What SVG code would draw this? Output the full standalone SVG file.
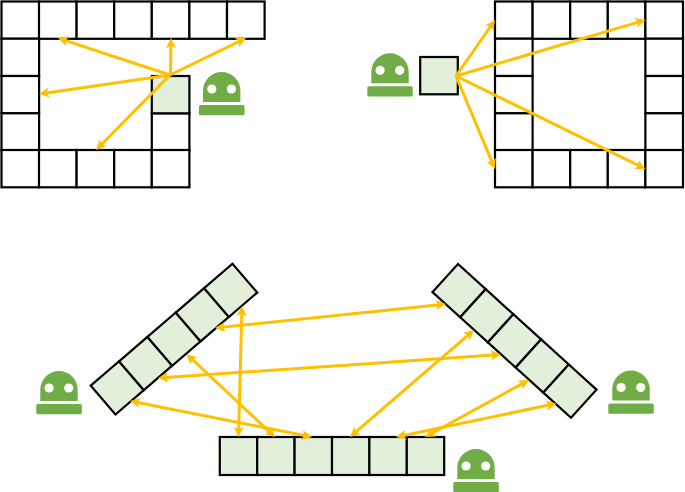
<svg xmlns="http://www.w3.org/2000/svg" width="685" height="492" viewBox="0 0 685 492">
<style>
.e{fill:#fff;stroke:#000;stroke-width:2.2}
.f{fill:#e2efda;stroke:#000;stroke-width:2.2}
.c line{stroke:#ffc000;stroke-width:3;fill:none}
.o line{marker-end:url(#a)}
.b line{marker-start:url(#a);marker-end:url(#a)}
</style>
<defs>
<marker id="a" markerUnits="userSpaceOnUse" markerWidth="11" markerHeight="12" viewBox="0 0 11 12" refX="6" refY="6" orient="auto-start-reverse"><path d="M0 1 L10 6 L0 11 L2 6Z" fill="#ffc000"/></marker>
<g id="bot"><path d="M0 30V18.7A18.7 18.7 0 0 1 37.4 18.7V30Z" fill="#70ad47"/><circle cx="8.8" cy="17" r="4.6" fill="#fff"/><circle cx="28.4" cy="17" r="4.6" fill="#fff"/><rect x="-4" y="33" width="45.5" height="10.2" rx="1.5" fill="#70ad47"/></g>
<rect id="ce" class="e" width="37.6" height="37.3"/>
<rect id="cf" class="f" width="37.4" height="38"/>
</defs>
<g id="grid-top-left">
<use href="#ce" x="1.5" y="1.5"/><use href="#ce" x="39" y="1.5"/><use href="#ce" x="76.6" y="1.5"/><use href="#ce" x="114.2" y="1.5"/><use href="#ce" x="151.8" y="1.5"/><use href="#ce" x="189.4" y="1.5"/><use href="#ce" x="227" y="1.5"/>
<use href="#ce" x="1.5" y="38.7"/><use href="#ce" x="1.5" y="76"/><use href="#ce" x="1.5" y="113.3"/>
<use href="#ce" x="151.8" y="113.3"/>
<use href="#ce" x="1.5" y="150"/><use href="#ce" x="39" y="150"/><use href="#ce" x="76.6" y="150"/><use href="#ce" x="114.2" y="150"/><use href="#ce" x="151.8" y="150"/>
</g>
<g id="cell-start-left"><rect class="f" x="151.8" y="76" width="37.6" height="37.3"/></g>
<g id="robot-top-left"><use href="#bot" x="203" y="72"/></g>
<g id="grid-top-right">
<use href="#ce" x="495" y="1.5"/><use href="#ce" x="532.6" y="1.5"/><use href="#ce" x="570.2" y="1.5"/><use href="#ce" x="607.8" y="1.5"/><use href="#ce" x="645.4" y="1.5"/>
<use href="#ce" x="495" y="38.7"/><use href="#ce" x="495" y="76"/><use href="#ce" x="495" y="113.3"/>
<use href="#ce" x="645.4" y="38.7"/><use href="#ce" x="645.4" y="76"/><use href="#ce" x="645.4" y="113.3"/>
<use href="#ce" x="495" y="150"/><use href="#ce" x="532.6" y="150"/><use href="#ce" x="570.2" y="150"/><use href="#ce" x="607.8" y="150"/><use href="#ce" x="645.4" y="150"/>
</g>
<g id="cell-start-right"><rect class="f" x="420.2" y="57" width="37.6" height="37.3"/></g>
<g id="robot-top-right"><use href="#bot" x="371.3" y="53.3"/></g>
<g id="strip-left" transform="translate(90.7 385.7) rotate(-40.7)">
<use href="#cf" x="0"/><use href="#cf" x="37.4"/><use href="#cf" x="74.8"/><use href="#cf" x="112.2"/><use href="#cf" x="149.6"/>
</g>
<g id="strip-right" transform="translate(458 264) rotate(42.2)">
<use href="#cf" x="0"/><use href="#cf" x="37.4"/><use href="#cf" x="74.8"/><use href="#cf" x="112.2"/><use href="#cf" x="149.6"/>
</g>
<g id="strip-bottom">
<use href="#cf" x="219.8" y="437"/><use href="#cf" x="257.2" y="437"/><use href="#cf" x="294.6" y="437"/><use href="#cf" x="332" y="437"/><use href="#cf" x="369.4" y="437"/><use href="#cf" x="406.8" y="437"/>
</g>
<g id="robot-left"><use href="#bot" x="40.3" y="371"/></g>
<g id="robot-right"><use href="#bot" x="612.3" y="370.5"/></g>
<g id="robot-bottom"><use href="#bot" x="457.3" y="449"/></g>
<g id="connectors" class="c">
<g class="o">
<line x1="170" y1="75" x2="61.8" y2="39.3"/>
<line x1="170.5" y1="75" x2="171" y2="42"/>
<line x1="170" y1="75" x2="242.4" y2="39.8"/>
<line x1="170" y1="75" x2="43" y2="93.4"/>
<line x1="170" y1="75" x2="98.8" y2="147.1"/>
<line x1="456" y1="76" x2="492.7" y2="23.3"/>
<line x1="456" y1="76" x2="641.7" y2="21.1"/>
<line x1="456" y1="76" x2="493.5" y2="165.3"/>
<line x1="456" y1="76" x2="641.9" y2="167.2"/>
</g>
<g class="b">
<line x1="241.9" y1="310" x2="238.6" y2="433"/>
<line x1="189.4" y1="356.7" x2="272.1" y2="434.3"/>
<line x1="133.9" y1="401.8" x2="308.1" y2="436.2"/>
<line x1="219" y1="327.6" x2="442" y2="304.4"/>
<line x1="162" y1="377.7" x2="497" y2="354.8"/>
<line x1="471" y1="332.6" x2="353" y2="434.4"/>
<line x1="525.5" y1="381.9" x2="428.5" y2="435.1"/>
<line x1="552.6" y1="404.3" x2="399.9" y2="436.2"/>
</g>
</g>
</svg>
